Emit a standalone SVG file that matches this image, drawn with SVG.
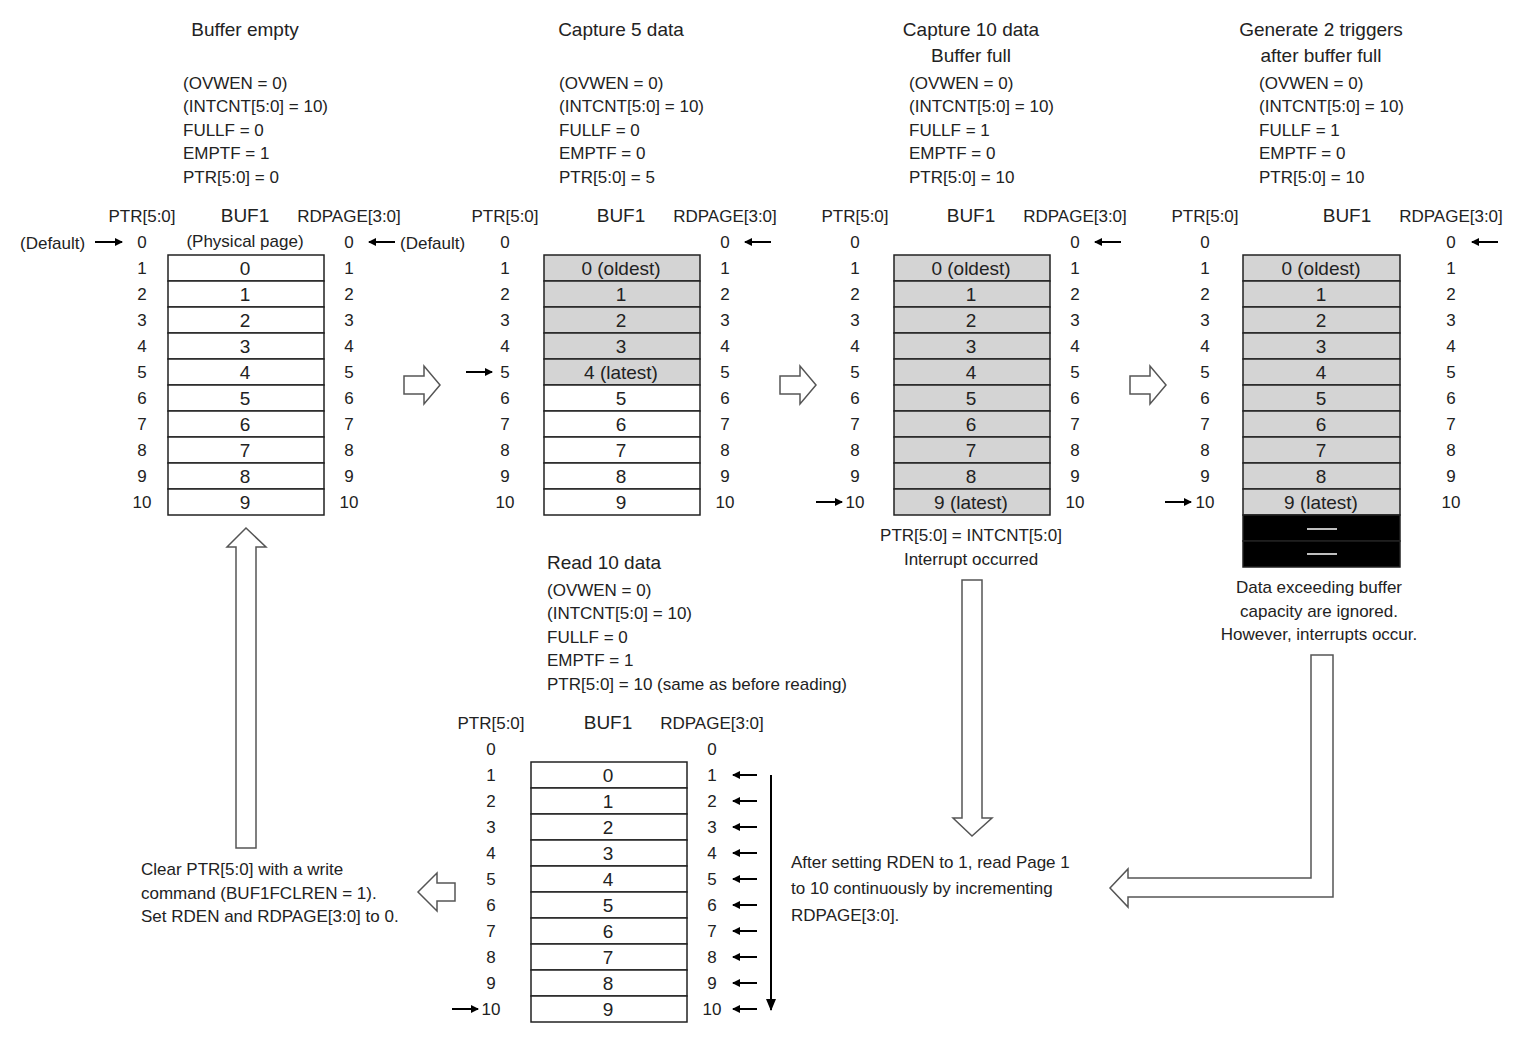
<svg xmlns="http://www.w3.org/2000/svg" width="1526" height="1044" viewBox="0 0 1526 1044">
<style>
text{font-family:"Liberation Sans",Arial,sans-serif;font-size:17px;fill:#222}
.c{text-anchor:middle}
.b{font-size:19px}
.h{font-size:19px}
.w{fill:#fff;stroke:#222;stroke-width:1.5}
.g{fill:#d4d4d4;stroke:#222;stroke-width:1.5}
.k{fill:#000;stroke:#222;stroke-width:1.5}
.ho{fill:#fff;stroke:#555;stroke-width:1.5}
.ln{stroke:#000;stroke-width:2;fill:none}
</style>
<defs>
<marker id="ah" markerWidth="8" markerHeight="8" refX="7" refY="4" orient="auto" markerUnits="userSpaceOnUse"><path d="M0,0 L8,4 L0,8 z" fill="#000"/></marker>
<marker id="ah2" markerWidth="12" markerHeight="10" refX="11" refY="5" orient="auto" markerUnits="userSpaceOnUse"><path d="M0,0 L12,5 L0,10 z" fill="#000"/></marker>
</defs>
<rect width="1526" height="1044" fill="#fff"/>

<!-- Headers -->
<g id="hdr1"><text class="c h" x="245" y="36">Buffer empty</text>
<text x="183" y="89">(OVWEN = 0)</text><text x="183" y="112">(INTCNT[5:0] = 10)</text><text x="183" y="136">FULLF = 0</text><text x="183" y="159">EMPTF = 1</text><text x="183" y="183">PTR[5:0] = 0</text></g>
<g id="hdr2"><text class="c h" x="621" y="36">Capture 5 data</text>
<text x="559" y="89">(OVWEN = 0)</text><text x="559" y="112">(INTCNT[5:0] = 10)</text><text x="559" y="136">FULLF = 0</text><text x="559" y="159">EMPTF = 0</text><text x="559" y="183">PTR[5:0] = 5</text></g>
<g id="hdr3"><text class="c h" x="971" y="36">Capture 10 data</text><text class="c h" x="971" y="62">Buffer full</text>
<text x="909" y="89">(OVWEN = 0)</text><text x="909" y="112">(INTCNT[5:0] = 10)</text><text x="909" y="136">FULLF = 1</text><text x="909" y="159">EMPTF = 0</text><text x="909" y="183">PTR[5:0] = 10</text></g>
<g id="hdr4"><text class="c h" x="1321" y="36">Generate 2 triggers</text><text class="c h" x="1321" y="62">after buffer full</text>
<text x="1259" y="89">(OVWEN = 0)</text><text x="1259" y="112">(INTCNT[5:0] = 10)</text><text x="1259" y="136">FULLF = 1</text><text x="1259" y="159">EMPTF = 0</text><text x="1259" y="183">PTR[5:0] = 10</text></g>
<g id="hdr5"><text class="h" x="547" y="569">Read 10 data</text>
<text x="547" y="596">(OVWEN = 0)</text><text x="547" y="619">(INTCNT[5:0] = 10)</text><text x="547" y="643">FULLF = 0</text><text x="547" y="666">EMPTF = 1</text><text x="547" y="690">PTR[5:0] = 10 (same as before reading)</text></g>

<!-- Table 1 -->
<g id="t1">
<text class="c" x="142" y="222">PTR[5:0]</text><text class="c b" x="245" y="222">BUF1</text><text class="c" x="349" y="222">RDPAGE[3:0]</text>
<text class="c" x="245" y="247">(Physical page)</text>
<text x="20" y="249">(Default)</text><text x="400" y="249">(Default)</text>
<text class="c" x="142" y="248">0</text><text class="c" x="349" y="248">0</text>
<g class="w">
<rect x="168" y="255" width="156" height="26"/><rect x="168" y="281" width="156" height="26"/><rect x="168" y="307" width="156" height="26"/><rect x="168" y="333" width="156" height="26"/><rect x="168" y="359" width="156" height="26"/><rect x="168" y="385" width="156" height="26"/><rect x="168" y="411" width="156" height="26"/><rect x="168" y="437" width="156" height="26"/><rect x="168" y="463" width="156" height="26"/><rect x="168" y="489" width="156" height="26"/></g>
<g class="c b"><text class="c b" x="245" y="275">0</text><text class="c b" x="245" y="301">1</text><text class="c b" x="245" y="327">2</text><text class="c b" x="245" y="353">3</text><text class="c b" x="245" y="379">4</text><text class="c b" x="245" y="405">5</text><text class="c b" x="245" y="431">6</text><text class="c b" x="245" y="457">7</text><text class="c b" x="245" y="483">8</text><text class="c b" x="245" y="509">9</text></g>
<g><text class="c" x="142" y="274">1</text><text class="c" x="142" y="300">2</text><text class="c" x="142" y="326">3</text><text class="c" x="142" y="352">4</text><text class="c" x="142" y="378">5</text><text class="c" x="142" y="404">6</text><text class="c" x="142" y="430">7</text><text class="c" x="142" y="456">8</text><text class="c" x="142" y="482">9</text><text class="c" x="142" y="508">10</text>
<text class="c" x="349" y="274">1</text><text class="c" x="349" y="300">2</text><text class="c" x="349" y="326">3</text><text class="c" x="349" y="352">4</text><text class="c" x="349" y="378">5</text><text class="c" x="349" y="404">6</text><text class="c" x="349" y="430">7</text><text class="c" x="349" y="456">8</text><text class="c" x="349" y="482">9</text><text class="c" x="349" y="508">10</text></g>
</g>

<!-- Table 2 -->
<g id="t2">
<text class="c" x="505" y="222">PTR[5:0]</text><text class="c b" x="621" y="222">BUF1</text><text class="c" x="725" y="222">RDPAGE[3:0]</text>
<text class="c" x="505" y="248">0</text><text class="c" x="725" y="248">0</text>
<rect class="g" x="544" y="255" width="156" height="26"/><rect class="g" x="544" y="281" width="156" height="26"/><rect class="g" x="544" y="307" width="156" height="26"/><rect class="g" x="544" y="333" width="156" height="26"/><rect class="g" x="544" y="359" width="156" height="26"/>
<rect class="w" x="544" y="385" width="156" height="26"/><rect class="w" x="544" y="411" width="156" height="26"/><rect class="w" x="544" y="437" width="156" height="26"/><rect class="w" x="544" y="463" width="156" height="26"/><rect class="w" x="544" y="489" width="156" height="26"/>
<text class="c b" x="621" y="275">0 (oldest)</text><text class="c b" x="621" y="301">1</text><text class="c b" x="621" y="327">2</text><text class="c b" x="621" y="353">3</text><text class="c b" x="621" y="379">4 (latest)</text><text class="c b" x="621" y="405">5</text><text class="c b" x="621" y="431">6</text><text class="c b" x="621" y="457">7</text><text class="c b" x="621" y="483">8</text><text class="c b" x="621" y="509">9</text>
<text class="c" x="505" y="274">1</text><text class="c" x="505" y="300">2</text><text class="c" x="505" y="326">3</text><text class="c" x="505" y="352">4</text><text class="c" x="505" y="378">5</text><text class="c" x="505" y="404">6</text><text class="c" x="505" y="430">7</text><text class="c" x="505" y="456">8</text><text class="c" x="505" y="482">9</text><text class="c" x="505" y="508">10</text>
<text class="c" x="725" y="274">1</text><text class="c" x="725" y="300">2</text><text class="c" x="725" y="326">3</text><text class="c" x="725" y="352">4</text><text class="c" x="725" y="378">5</text><text class="c" x="725" y="404">6</text><text class="c" x="725" y="430">7</text><text class="c" x="725" y="456">8</text><text class="c" x="725" y="482">9</text><text class="c" x="725" y="508">10</text>
</g>

<!-- Table 3 -->
<g id="t3">
<text class="c" x="855" y="222">PTR[5:0]</text><text class="c b" x="971" y="222">BUF1</text><text class="c" x="1075" y="222">RDPAGE[3:0]</text>
<text class="c" x="855" y="248">0</text><text class="c" x="1075" y="248">0</text>
<rect class="g" x="894" y="255" width="156" height="26"/><rect class="g" x="894" y="281" width="156" height="26"/><rect class="g" x="894" y="307" width="156" height="26"/><rect class="g" x="894" y="333" width="156" height="26"/><rect class="g" x="894" y="359" width="156" height="26"/><rect class="g" x="894" y="385" width="156" height="26"/><rect class="g" x="894" y="411" width="156" height="26"/><rect class="g" x="894" y="437" width="156" height="26"/><rect class="g" x="894" y="463" width="156" height="26"/><rect class="g" x="894" y="489" width="156" height="26"/>
<text class="c b" x="971" y="275">0 (oldest)</text><text class="c b" x="971" y="301">1</text><text class="c b" x="971" y="327">2</text><text class="c b" x="971" y="353">3</text><text class="c b" x="971" y="379">4</text><text class="c b" x="971" y="405">5</text><text class="c b" x="971" y="431">6</text><text class="c b" x="971" y="457">7</text><text class="c b" x="971" y="483">8</text><text class="c b" x="971" y="509">9 (latest)</text>
<text class="c" x="855" y="274">1</text><text class="c" x="855" y="300">2</text><text class="c" x="855" y="326">3</text><text class="c" x="855" y="352">4</text><text class="c" x="855" y="378">5</text><text class="c" x="855" y="404">6</text><text class="c" x="855" y="430">7</text><text class="c" x="855" y="456">8</text><text class="c" x="855" y="482">9</text><text class="c" x="855" y="508">10</text>
<text class="c" x="1075" y="274">1</text><text class="c" x="1075" y="300">2</text><text class="c" x="1075" y="326">3</text><text class="c" x="1075" y="352">4</text><text class="c" x="1075" y="378">5</text><text class="c" x="1075" y="404">6</text><text class="c" x="1075" y="430">7</text><text class="c" x="1075" y="456">8</text><text class="c" x="1075" y="482">9</text><text class="c" x="1075" y="508">10</text>
<text class="c" x="971" y="541">PTR[5:0] = INTCNT[5:0]</text><text class="c" x="971" y="565">Interrupt occurred</text>
</g>

<!-- Table 4 -->
<g id="t4">
<text class="c" x="1205" y="222">PTR[5:0]</text><text class="c b" x="1347" y="222">BUF1</text><text class="c" x="1451" y="222">RDPAGE[3:0]</text>
<text class="c" x="1205" y="248">0</text><text class="c" x="1451" y="248">0</text>
<rect class="g" x="1243" y="255" width="157" height="26"/><rect class="g" x="1243" y="281" width="157" height="26"/><rect class="g" x="1243" y="307" width="157" height="26"/><rect class="g" x="1243" y="333" width="157" height="26"/><rect class="g" x="1243" y="359" width="157" height="26"/><rect class="g" x="1243" y="385" width="157" height="26"/><rect class="g" x="1243" y="411" width="157" height="26"/><rect class="g" x="1243" y="437" width="157" height="26"/><rect class="g" x="1243" y="463" width="157" height="26"/><rect class="g" x="1243" y="489" width="157" height="26"/>
<rect class="k" x="1243" y="515" width="157" height="26"/><rect class="k" x="1243" y="541" width="157" height="26"/>
<line x1="1307" y1="529" x2="1337" y2="529" stroke="#fff" stroke-width="1.5"/><line x1="1307" y1="554" x2="1337" y2="554" stroke="#fff" stroke-width="1.5"/>
<text class="c b" x="1321" y="275">0 (oldest)</text><text class="c b" x="1321" y="301">1</text><text class="c b" x="1321" y="327">2</text><text class="c b" x="1321" y="353">3</text><text class="c b" x="1321" y="379">4</text><text class="c b" x="1321" y="405">5</text><text class="c b" x="1321" y="431">6</text><text class="c b" x="1321" y="457">7</text><text class="c b" x="1321" y="483">8</text><text class="c b" x="1321" y="509">9 (latest)</text>
<text class="c" x="1205" y="274">1</text><text class="c" x="1205" y="300">2</text><text class="c" x="1205" y="326">3</text><text class="c" x="1205" y="352">4</text><text class="c" x="1205" y="378">5</text><text class="c" x="1205" y="404">6</text><text class="c" x="1205" y="430">7</text><text class="c" x="1205" y="456">8</text><text class="c" x="1205" y="482">9</text><text class="c" x="1205" y="508">10</text>
<text class="c" x="1451" y="274">1</text><text class="c" x="1451" y="300">2</text><text class="c" x="1451" y="326">3</text><text class="c" x="1451" y="352">4</text><text class="c" x="1451" y="378">5</text><text class="c" x="1451" y="404">6</text><text class="c" x="1451" y="430">7</text><text class="c" x="1451" y="456">8</text><text class="c" x="1451" y="482">9</text><text class="c" x="1451" y="508">10</text>
<text class="c" x="1319" y="593">Data exceeding buffer</text><text class="c" x="1319" y="617">capacity are ignored.</text><text class="c" x="1319" y="640">However, interrupts occur.</text>
</g>

<!-- Bottom table -->
<g id="t5">
<text class="c" x="491" y="729">PTR[5:0]</text><text class="c b" x="608" y="729">BUF1</text><text class="c" x="712" y="729">RDPAGE[3:0]</text>
<text class="c" x="491" y="755">0</text><text class="c" x="712" y="755">0</text>
<g class="w"><rect x="531" y="762" width="156" height="26"/><rect x="531" y="788" width="156" height="26"/><rect x="531" y="814" width="156" height="26"/><rect x="531" y="840" width="156" height="26"/><rect x="531" y="866" width="156" height="26"/><rect x="531" y="892" width="156" height="26"/><rect x="531" y="918" width="156" height="26"/><rect x="531" y="944" width="156" height="26"/><rect x="531" y="970" width="156" height="26"/><rect x="531" y="996" width="156" height="26"/></g>
<text class="c b" x="608" y="782">0</text><text class="c b" x="608" y="808">1</text><text class="c b" x="608" y="834">2</text><text class="c b" x="608" y="860">3</text><text class="c b" x="608" y="886">4</text><text class="c b" x="608" y="912">5</text><text class="c b" x="608" y="938">6</text><text class="c b" x="608" y="964">7</text><text class="c b" x="608" y="990">8</text><text class="c b" x="608" y="1016">9</text>
<text class="c" x="491" y="781">1</text><text class="c" x="491" y="807">2</text><text class="c" x="491" y="833">3</text><text class="c" x="491" y="859">4</text><text class="c" x="491" y="885">5</text><text class="c" x="491" y="911">6</text><text class="c" x="491" y="937">7</text><text class="c" x="491" y="963">8</text><text class="c" x="491" y="989">9</text><text class="c" x="491" y="1015">10</text>
<text class="c" x="712" y="781">1</text><text class="c" x="712" y="807">2</text><text class="c" x="712" y="833">3</text><text class="c" x="712" y="859">4</text><text class="c" x="712" y="885">5</text><text class="c" x="712" y="911">6</text><text class="c" x="712" y="937">7</text><text class="c" x="712" y="963">8</text><text class="c" x="712" y="989">9</text><text class="c" x="712" y="1015">10</text>
</g>

<g id="notes">
<text x="141" y="875">Clear PTR[5:0] with a write</text><text x="141" y="899">command (BUF1FCLREN = 1).</text><text x="141" y="922">Set RDEN and RDPAGE[3:0] to 0.</text>
<text x="791" y="868">After setting RDEN to 1, read Page 1</text><text x="791" y="894">to 10 continuously by incrementing</text><text x="791" y="921">RDPAGE[3:0].</text>
</g>

<g id="connectors">
<!-- small pointer arrows -->
<g class="ln" marker-end="url(#ah)">
<line x1="95" y1="242" x2="122" y2="242"/><line x1="395" y1="242" x2="369" y2="242"/>
<line x1="466" y1="372" x2="492" y2="372"/>
<line x1="771" y1="242" x2="745" y2="242"/><line x1="1121" y1="242" x2="1095" y2="242"/><line x1="1498" y1="242" x2="1472" y2="242"/>
<line x1="816" y1="502" x2="842" y2="502"/><line x1="1165" y1="502" x2="1191" y2="502"/>
<line x1="452" y1="1009" x2="478" y2="1009"/>
<line x1="757" y1="775" x2="733" y2="775"/><line x1="757" y1="801" x2="733" y2="801"/><line x1="757" y1="827" x2="733" y2="827"/><line x1="757" y1="853" x2="733" y2="853"/><line x1="757" y1="879" x2="733" y2="879"/><line x1="757" y1="905" x2="733" y2="905"/><line x1="757" y1="931" x2="733" y2="931"/><line x1="757" y1="957" x2="733" y2="957"/><line x1="757" y1="983" x2="733" y2="983"/><line x1="757" y1="1009" x2="733" y2="1009"/>
</g>
<line x1="771" y1="775" x2="771" y2="1010" stroke="#000" stroke-width="2" marker-end="url(#ah2)"/>
<!-- hollow arrows -->
<path class="ho" d="M404,376 H424 V366 L440,385 L424,404 V394 H404 Z"/>
<path class="ho" d="M780,376 H800 V366 L816,385 L800,404 V394 H780 Z"/>
<path class="ho" d="M1130,376 H1150 V366 L1166,385 L1150,404 V394 H1130 Z"/>
<path class="ho" d="M455,883 H437 V873 L418,892 L437,911 V901 H455 Z"/>
<path class="ho" d="M236,848 V547 H227 L246,528 L266,547 H256 V848 Z"/>
<path class="ho" d="M962,580 H982 V818 H992 L972,836 L953,818 H962 Z"/>
<path class="ho" d="M1311,655 H1333 V897 H1128 V907 L1110,888 L1128,869 V878 H1311 Z"/>
</g>
</svg>
